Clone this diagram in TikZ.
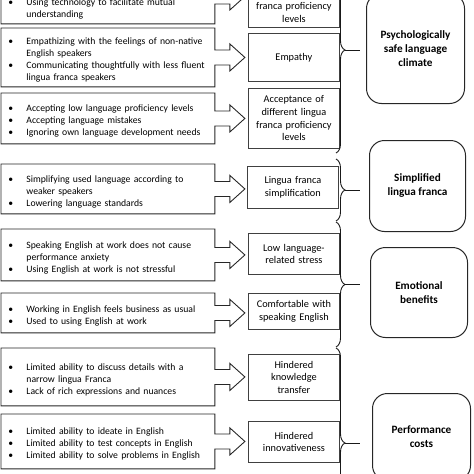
\documentclass[tikz,border=0pt]{standalone}
\usepackage{fontspec}
\setmainfont{Carlito}
\usetikzlibrary{calc,decorations.pathreplacing}
\newcommand\itm{\par\hyphenpenalty=10000\exhyphenpenalty=10000\noindent\hangindent=23pt\hangafter=1\makebox[23pt][l]{\hspace{5pt}\textbullet}}
\begin{document}
\begin{tikzpicture}[x=1pt,y=-1pt,line width=0.9pt,
  every node/.style={text=black},
  lbox/.style={anchor=north west, minimum width=213pt, inner xsep=2pt, inner ysep=0pt,
    text width=209pt, align=left, font=\fontsize{9.7}{12}\selectfont},
  lline/.style={draw=black!85, line join=miter},
  mbox/.style={draw=black!75, line width=0.8pt, anchor=north west, minimum width=91pt, inner xsep=2pt, inner ysep=0pt,
    text width=87pt, align=center, font=\fontsize{10.3}{12.7}\selectfont},
  rbox/.style={draw=black!85, line width=1pt, rounded corners=15pt, anchor=north west, inner sep=0pt,
    align=center, font=\bfseries\fontsize{11.2}{14}\selectfont},
  bracestyle/.style={draw=black!90, decorate, decoration={brace, amplitude=9pt}},
  tipline/.style={draw=black!90}
]
\useasboundingbox (0,0) rectangle (474,474);

% left boxes
\node[lbox, minimum height=54pt] (L1) at (1,-31) {\strut\par\strut\itm Using technology to facilitate mutual\newline understanding\par};
\node[lbox, minimum height=58pt] (L2) at (1,28) {\itm Empathizing with the feelings of non-native\newline English speakers\itm Communicating thoughtfully with less fluent\newline lingua franca speakers\par};
\node[lbox, minimum height=50pt] (L3) at (1,93) {\itm Accepting low language proficiency levels\itm Accepting language mistakes\itm Ignoring own language development needs\par};
\node[lbox, minimum height=49pt] (L4) at (1,164) {\itm Simplifying used language according to\newline weaker speakers\itm Lowering language standards\par};
\node[lbox, minimum height=51pt] (L5) at (1,229) {\itm Speaking English at work does not cause\newline performance anxiety\itm Using English at work is not stressful\par};
\node[lbox, minimum height=39pt] (L6) at (1,293) {\itm Working in English feels business as usual\itm Used to using English at work\par};
\node[lbox, minimum height=57pt] (L7) at (1,348) {\itm Limited ability to discuss details with a\newline narrow lingua Franca\itm Lack of rich expressions and nuances\par};
\node[lbox, minimum height=54pt] (L8) at (1,414) {\itm Limited ability to ideate in English\itm Limited ability to test concepts in English\itm Limited ability to solve problems in English\par};

% box outlines merged with block arrows
\foreach \n in {L1,L2,L3,L4,L5,L6,L7,L8}{
  \draw[lline] (\n.north west) -- (\n.north east) -- ($(\n.east)+(0,-7.5)$) -- ($(\n.east)+(15,-7.5)$)
    -- ($(\n.east)+(15,-13.5)$) -- ($(\n.east)+(30,0)$) -- ($(\n.east)+(15,13.5)$) -- ($(\n.east)+(15,7.5)$)
    -- ($(\n.east)+(0,7.5)$) -- (\n.south east) -- (\n.south west) -- cycle;
}

% middle boxes
\node[mbox, minimum height=57pt] (M1) at (248,-30) {\strut\\\strut\\franca proficiency\\levels};
\node[mbox, minimum height=48pt] (M2) at (248,33) {Empathy};
\node[mbox, minimum height=60pt] (M3) at (248,88) {Acceptance of\\different lingua\\franca proficiency\\levels};
\node[mbox, minimum height=42pt] (M4) at (247,166) {Lingua franca\\simplification};
\node[mbox, minimum height=41pt] (M5) at (248,233) {Low language-\\related stress};
\node[mbox, minimum height=36pt] (M6) at (248,293) {Comfortable with\\speaking English};
\node[mbox, minimum height=46pt] (M7) at (248,354) {Hindered\\knowledge\\transfer};
\node[mbox, minimum height=41pt] (M8) at (248,421) {Hindered\\innovativeness};

% right rounded boxes
\node[rbox, minimum width=98pt, minimum height=110pt] (R1) at (366,-7) {Psychologically\\safe language\\climate};
\node[rbox, minimum width=96pt, minimum height=91pt] (R2) at (369,140) {Simplified\\lingua franca};
\node[rbox, minimum width=97pt, minimum height=90pt] (R3) at (370,247) {Emotional\\benefits};
\node[rbox, minimum width=98pt, minimum height=87pt] (R4) at (372,393) {Performance\\costs};

% braces
\draw[bracestyle] (336,-53) -- (336,153);
\draw[bracestyle] (336,159) -- (336,221);
\draw[bracestyle] (336,222) -- (336,347);
\draw[bracestyle] (336,348) -- (336,538);
\coordinate (T1) at (345,50);
\coordinate (T2) at (345,190);
\coordinate (T3) at (345,284.5);
\coordinate (T4) at (345,443);
\foreach \t in {T1,T2,T3,T4}{ \draw[tipline] (\t) -- ++(15,0); }
\end{tikzpicture}
\end{document}
